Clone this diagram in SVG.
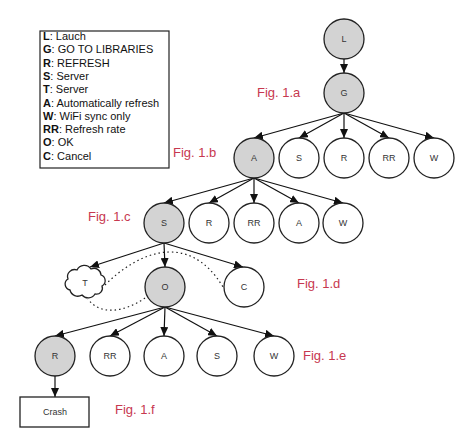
<svg xmlns="http://www.w3.org/2000/svg" width="474" height="447" viewBox="0 0 474 447">
<defs>
<marker id="arr" markerUnits="userSpaceOnUse" markerWidth="10" markerHeight="8" refX="9" refY="4" orient="auto">
<path d="M0,0 L9,4 L0,8 z" fill="#111"/>
</marker>
<style>
.n{fill:#fff;stroke:#222;stroke-width:1.3}
.g{fill:#d3d3d3;stroke:#222;stroke-width:1.3}
.t{font-family:"Liberation Sans",Arial,sans-serif;font-size:9px;fill:#333;text-anchor:middle}
.f{font-family:"Liberation Sans",Arial,sans-serif;font-size:13px;fill:#c7384f}
.lg{font-family:"Liberation Sans",Arial,sans-serif;font-size:11px;fill:#111}
.e{stroke:#111;stroke-width:1.2;fill:none;marker-end:url(#arr)}
.d{stroke:#222;stroke-width:1.2;fill:none;stroke-dasharray:1.5 3}
</style>
</defs>
<rect width="474" height="447" fill="#fff"/>
<g id="legend">
<rect x="40" y="31" width="129" height="137" fill="#fff" stroke="#222" stroke-width="1.2"/>
<text class="lg" x="43" y="40"><tspan font-weight="bold">L</tspan>: Lauch</text>
<text class="lg" x="43" y="53.3"><tspan font-weight="bold">G</tspan>: GO TO LIBRARIES</text>
<text class="lg" x="43" y="66.6"><tspan font-weight="bold">R</tspan>: REFRESH</text>
<text class="lg" x="43" y="79.9"><tspan font-weight="bold">S</tspan>: Server</text>
<text class="lg" x="43" y="93.2"><tspan font-weight="bold">T</tspan>: Server</text>
<text class="lg" x="43" y="106.5"><tspan font-weight="bold">A</tspan>: Automatically refresh</text>
<text class="lg" x="43" y="119.8"><tspan font-weight="bold">W</tspan>: WiFi sync only</text>
<text class="lg" x="43" y="133.1"><tspan font-weight="bold">RR</tspan>: Refresh rate</text>
<text class="lg" x="43" y="146.4"><tspan font-weight="bold">O</tspan>: OK</text>
<text class="lg" x="43" y="159.7"><tspan font-weight="bold">C</tspan>: Cancel</text>
</g>
<g id="labels">
<text class="f" x="257" y="97">Fig. 1.a</text>
<text class="f" x="173" y="157">Fig. 1.b</text>
<text class="f" x="88" y="221">Fig. 1.c</text>
<text class="f" x="297" y="288">Fig. 1.d</text>
<text class="f" x="303" y="360">Fig. 1.e</text>
<text class="f" x="115" y="414">Fig. 1.f</text>
</g>
<g id="connectors">
<line class="e" x1="344" y1="59" x2="344" y2="73"/>
<line class="e" x1="344" y1="113" x2="254" y2="138"/>
<line class="e" x1="344" y1="113" x2="299" y2="138"/>
<line class="e" x1="344" y1="113" x2="344" y2="138"/>
<line class="e" x1="344" y1="113" x2="389" y2="138"/>
<line class="e" x1="344" y1="113" x2="434" y2="138"/>
<line class="e" x1="254" y1="178" x2="164" y2="203"/>
<line class="e" x1="254" y1="178" x2="209" y2="203"/>
<line class="e" x1="254" y1="178" x2="254" y2="203"/>
<line class="e" x1="254" y1="178" x2="299" y2="203"/>
<line class="e" x1="254" y1="178" x2="343" y2="203"/>
<line class="e" x1="164" y1="243" x2="90" y2="267"/>
<line class="e" x1="164" y1="243" x2="165" y2="267"/>
<line class="e" x1="164" y1="243" x2="243" y2="267"/>
<line class="e" x1="165" y1="307" x2="55" y2="336"/>
<line class="e" x1="165" y1="307" x2="110" y2="336"/>
<line class="e" x1="165" y1="307" x2="164" y2="336"/>
<line class="e" x1="165" y1="307" x2="217" y2="336"/>
<line class="e" x1="165" y1="307" x2="274" y2="336"/>
<line class="e" x1="55" y1="376" x2="55" y2="397"/>
<path class="d" d="M105,285 C140,250 190,232 223,287"/>
<path class="d" d="M145,298 C125,312 100,316 88,299"/>
</g>
<g id="nL"><circle class="g" cx="344" cy="39" r="20"/><text class="t" x="344" y="42">L</text></g>
<g id="nG"><circle class="g" cx="344" cy="93" r="20"/><text class="t" x="344" y="96">G</text></g>
<g id="nA1"><circle class="g" cx="254" cy="158" r="20"/><text class="t" x="254" y="161">A</text></g>
<g id="nS1"><circle class="n" cx="299" cy="158" r="20"/><text class="t" x="299" y="161">S</text></g>
<g id="nR1"><circle class="n" cx="344" cy="158" r="20"/><text class="t" x="344" y="161">R</text></g>
<g id="nRR1"><circle class="n" cx="389" cy="158" r="20"/><text class="t" x="389" y="161">RR</text></g>
<g id="nW1"><circle class="n" cx="434" cy="158" r="20"/><text class="t" x="434" y="161">W</text></g>
<g id="nS2"><circle class="g" cx="164" cy="223" r="20"/><text class="t" x="164" y="226">S</text></g>
<g id="nR2"><circle class="n" cx="209" cy="223" r="20"/><text class="t" x="209" y="226">R</text></g>
<g id="nRR2"><circle class="n" cx="254" cy="223" r="20"/><text class="t" x="254" y="226">RR</text></g>
<g id="nA2"><circle class="n" cx="299" cy="223" r="20"/><text class="t" x="299" y="226">A</text></g>
<g id="nW2"><circle class="n" cx="343" cy="223" r="20"/><text class="t" x="343" y="226">W</text></g>
<g id="nT"><path class="n" d="M70,290 a6,6 0 0 1 -2,-11 a7,7 0 0 1 9,-9 a8,8 0 0 1 14,-1 a7,7 0 0 1 10,6 a6,6 0 0 1 1,11 a6,6 0 0 1 -7,8 a8,8 0 0 1 -13,1 a8,8 0 0 1 -12,-5 z"/><text class="t" x="85" y="286">T</text></g>
<g id="nO"><circle class="g" cx="165" cy="287" r="20"/><text class="t" x="165" y="290">O</text></g>
<g id="nC"><circle class="n" cx="244" cy="287" r="20"/><text class="t" x="244" y="290">C</text></g>
<g id="nR3"><circle class="g" cx="55" cy="356" r="20"/><text class="t" x="55" y="359">R</text></g>
<g id="nRR3"><circle class="n" cx="110" cy="356" r="20"/><text class="t" x="110" y="359">RR</text></g>
<g id="nA3"><circle class="n" cx="164" cy="356" r="20"/><text class="t" x="164" y="359">A</text></g>
<g id="nS3"><circle class="n" cx="217" cy="356" r="20"/><text class="t" x="217" y="359">S</text></g>
<g id="nW3"><circle class="n" cx="274" cy="356" r="20"/><text class="t" x="274" y="359">W</text></g>
<g id="nCrash"><rect class="n" x="20" y="397" width="69" height="30"/><text class="t" x="55" y="415">Crash</text></g>
</svg>
